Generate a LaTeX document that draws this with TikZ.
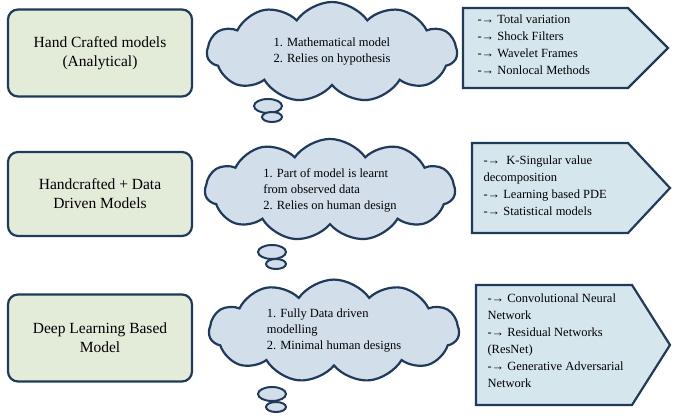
\documentclass[tikz,border=0pt]{standalone}
\usepackage{fontspec}
\setmainfont{Liberation Serif}
\usetikzlibrary{shapes.symbols,shapes.geometric}
\definecolor{edge}{HTML}{1F3A5A}
\definecolor{lgreen}{HTML}{E3EBD9}
\definecolor{cloudc}{HTML}{D2DEEA}
\definecolor{arrc}{HTML}{D5E7ED}
\newcommand{\arr}{-→}
\begin{document}
\begin{tikzpicture}[x=1pt,y=-1pt,
  lbox/.style={draw=edge,line width=2.2pt,fill=lgreen,rounded corners=10pt,minimum width=184pt,align=center,font=\fontsize{15.5}{19}\selectfont},
  thought/.style={cloud,cloud puffs=11,cloud puff arc=110,aspect=2.6,draw=edge,line width=2.2pt,fill=cloudc,align=left,font=\fontsize{12.5}{16}\selectfont},
  puff/.style={ellipse,draw=edge,line width=2pt,fill=cloudc,inner sep=0pt},
  ptxt/.style={align=left,anchor=north west,font=\fontsize{12.5}{17}\selectfont}]
\useasboundingbox (0,0) rectangle (685,420);
% left boxes
\node[lbox,minimum height=87pt] (l1) at (100,53) {Hand Crafted models\\(Analytical)};
\node[lbox,minimum height=84pt] (l2) at (100,194) {Handcrafted + Data\\Driven Models};
\node[lbox,minimum height=87pt] (l3) at (100,338) {Deep Learning Based\\Model};
% clouds
\node[thought,minimum width=250pt,minimum height=100pt] (c1) at (332,52) {1. Mathematical model\\2. Relies on hypothesis};
\node[puff,minimum width=28pt,minimum height=14pt] (p1a) at (268,106) {};
\node[puff,minimum width=20pt,minimum height=10pt] (p1b) at (272,117) {};
\node[thought,minimum width=250pt,minimum height=100pt] (c2) at (330,190) {1. Part of model is learnt\\from observed data\\2. Relies on human design};
\node[puff,minimum width=28pt,minimum height=14pt] (p2a) at (272,252) {};
\node[puff,minimum width=20pt,minimum height=10pt] (p2b) at (276,264) {};
\node[thought,minimum width=250pt,minimum height=100pt] (c3) at (334,331) {1. Fully Data driven\\modelling\\2. Minimal human designs};
\node[puff,minimum width=28pt,minimum height=14pt] (p3a) at (272,394) {};
\node[puff,minimum width=20pt,minimum height=10pt] (p3b) at (276,407) {};
% arrow boxes
\draw[edge,line width=2.2pt,fill=arrc,line join=miter] (463,8) -- (628,8) -- (668,48) -- (628,88) -- (463,88) -- cycle;
\node[ptxt] (t1) at (474,11) {\arr{} Total variation\\\arr{} Shock Filters\\\arr{} Wavelet Frames\\\arr{} Nonlocal Methods};
\draw[edge,line width=2.2pt,fill=arrc,line join=miter] (472,143) -- (628,143) -- (670,188) -- (628,233) -- (472,233) -- cycle;
\node[ptxt] (t2) at (480,152) {\arr{}\ \ K-Singular value\\decomposition\\\arr{} Learning based PDE\\\arr{} Statistical models};
\draw[edge,line width=2.2pt,fill=arrc,line join=miter] (476,285) -- (632,285) -- (670,345) -- (632,405) -- (476,405) -- cycle;
\node[ptxt] (t3) at (484,290) {\arr{} Convolutional Neural\\Network\\\arr{} Residual Networks\\(ResNet)\\\arr{} Generative Adversarial\\Network};
\end{tikzpicture}
\end{document}
